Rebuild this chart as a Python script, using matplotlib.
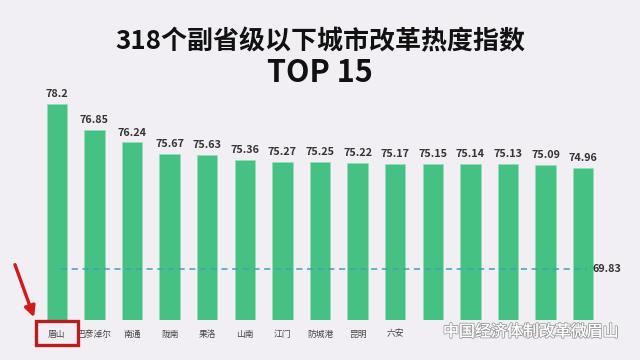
import matplotlib
matplotlib.use('Agg')
from matplotlib import pyplot as plt
from matplotlib.patches import Rectangle, FancyArrowPatch
import matplotlib.patheffects as pe

plt.rcParams['font.family'] = ['Noto Sans CJK SC', 'DejaVu Sans']

# 城市名 (后五个被水印遮住, 看不清)
cities = ['眉山', '巴彦淖尔', '南通', '陇南', '果洛', '山南', '江门', '防城港',
          '昆明', '六安', '', '', '', '', '']
scores = [78.2, 76.85, 76.24, 75.67, 75.63, 75.36, 75.27, 75.25,
          75.22, 75.17, 75.15, 75.14, 75.13, 75.09, 74.96]
average = 69.83

fig = plt.figure(figsize=(6.4, 3.6), dpi=100)
fig.patch.set_facecolor('#f1eff3')

ax = fig.add_axes([38 / 640, 1 - 320 / 360, 564 / 640, 240 / 360])
ax.set_facecolor('none')

x = list(range(len(scores)))
ax.bar(x, scores, width=0.54, color='#45c183', edgecolor='#8fe0b5', linewidth=0.4)

for i, v in zip(x, scores):
    ax.text(i, v + 0.25, f'{v:g}', ha='center', va='bottom', fontsize=7.8,
            fontweight='bold', color='#333333')

ax.plot([0.1, 14.1], [average, average], linestyle=(0, (4, 3)), color='#3ca3b4', lw=1.1)
ax.text(14.25, average, f'{average:g}', ha='left', va='center', fontsize=7.8,
        fontweight='bold', color='#333333')

ax.set_xlim(-0.5, 14.5)
ax.set_ylim(67.26, 79.4)
ax.set_xticks(x)
ax.set_xticklabels(cities, fontsize=6.3, color='#444444')
ax.tick_params(axis='x', length=0, pad=7)
ax.set_yticks([])
for s in ax.spines.values():
    s.set_visible(False)

# 标题
fig.text(0.5, 1 - 42 / 360, '318个副省级以下城市改革热度指数', ha='center', va='center',
         fontsize=18.7, fontweight='bold', color='#111111')
fig.text(0.5, 1 - 73 / 360, 'TOP 15', ha='center', va='center',
         fontsize=22, fontweight='bold', color='#111111')

# 红框 + 箭头
fig.patches.append(Rectangle((36 / 640, 1 - 345 / 360), 42 / 640, 24 / 360,
                             transform=fig.transFigure, fill=False,
                             edgecolor='#b81c1c', linewidth=2.4))
fig.patches.append(FancyArrowPatch((14 / 640, 1 - 262 / 360), (35 / 640, 1 - 320 / 360),
                                   transform=fig.transFigure, arrowstyle='-|>',
                                   mutation_scale=16, color='#d11a1a', linewidth=2.4))

# 水印
fig.text(531 / 640, 1 - 332 / 360, '中国经济体制改革微眉山', ha='center', va='center',
         fontsize=11.5, color='white', alpha=0.95,
         path_effects=[pe.withStroke(linewidth=1.4, foreground='#9a9a9a'), pe.Normal()])

fig.savefig('out.png', dpi=100, facecolor=fig.get_facecolor())
